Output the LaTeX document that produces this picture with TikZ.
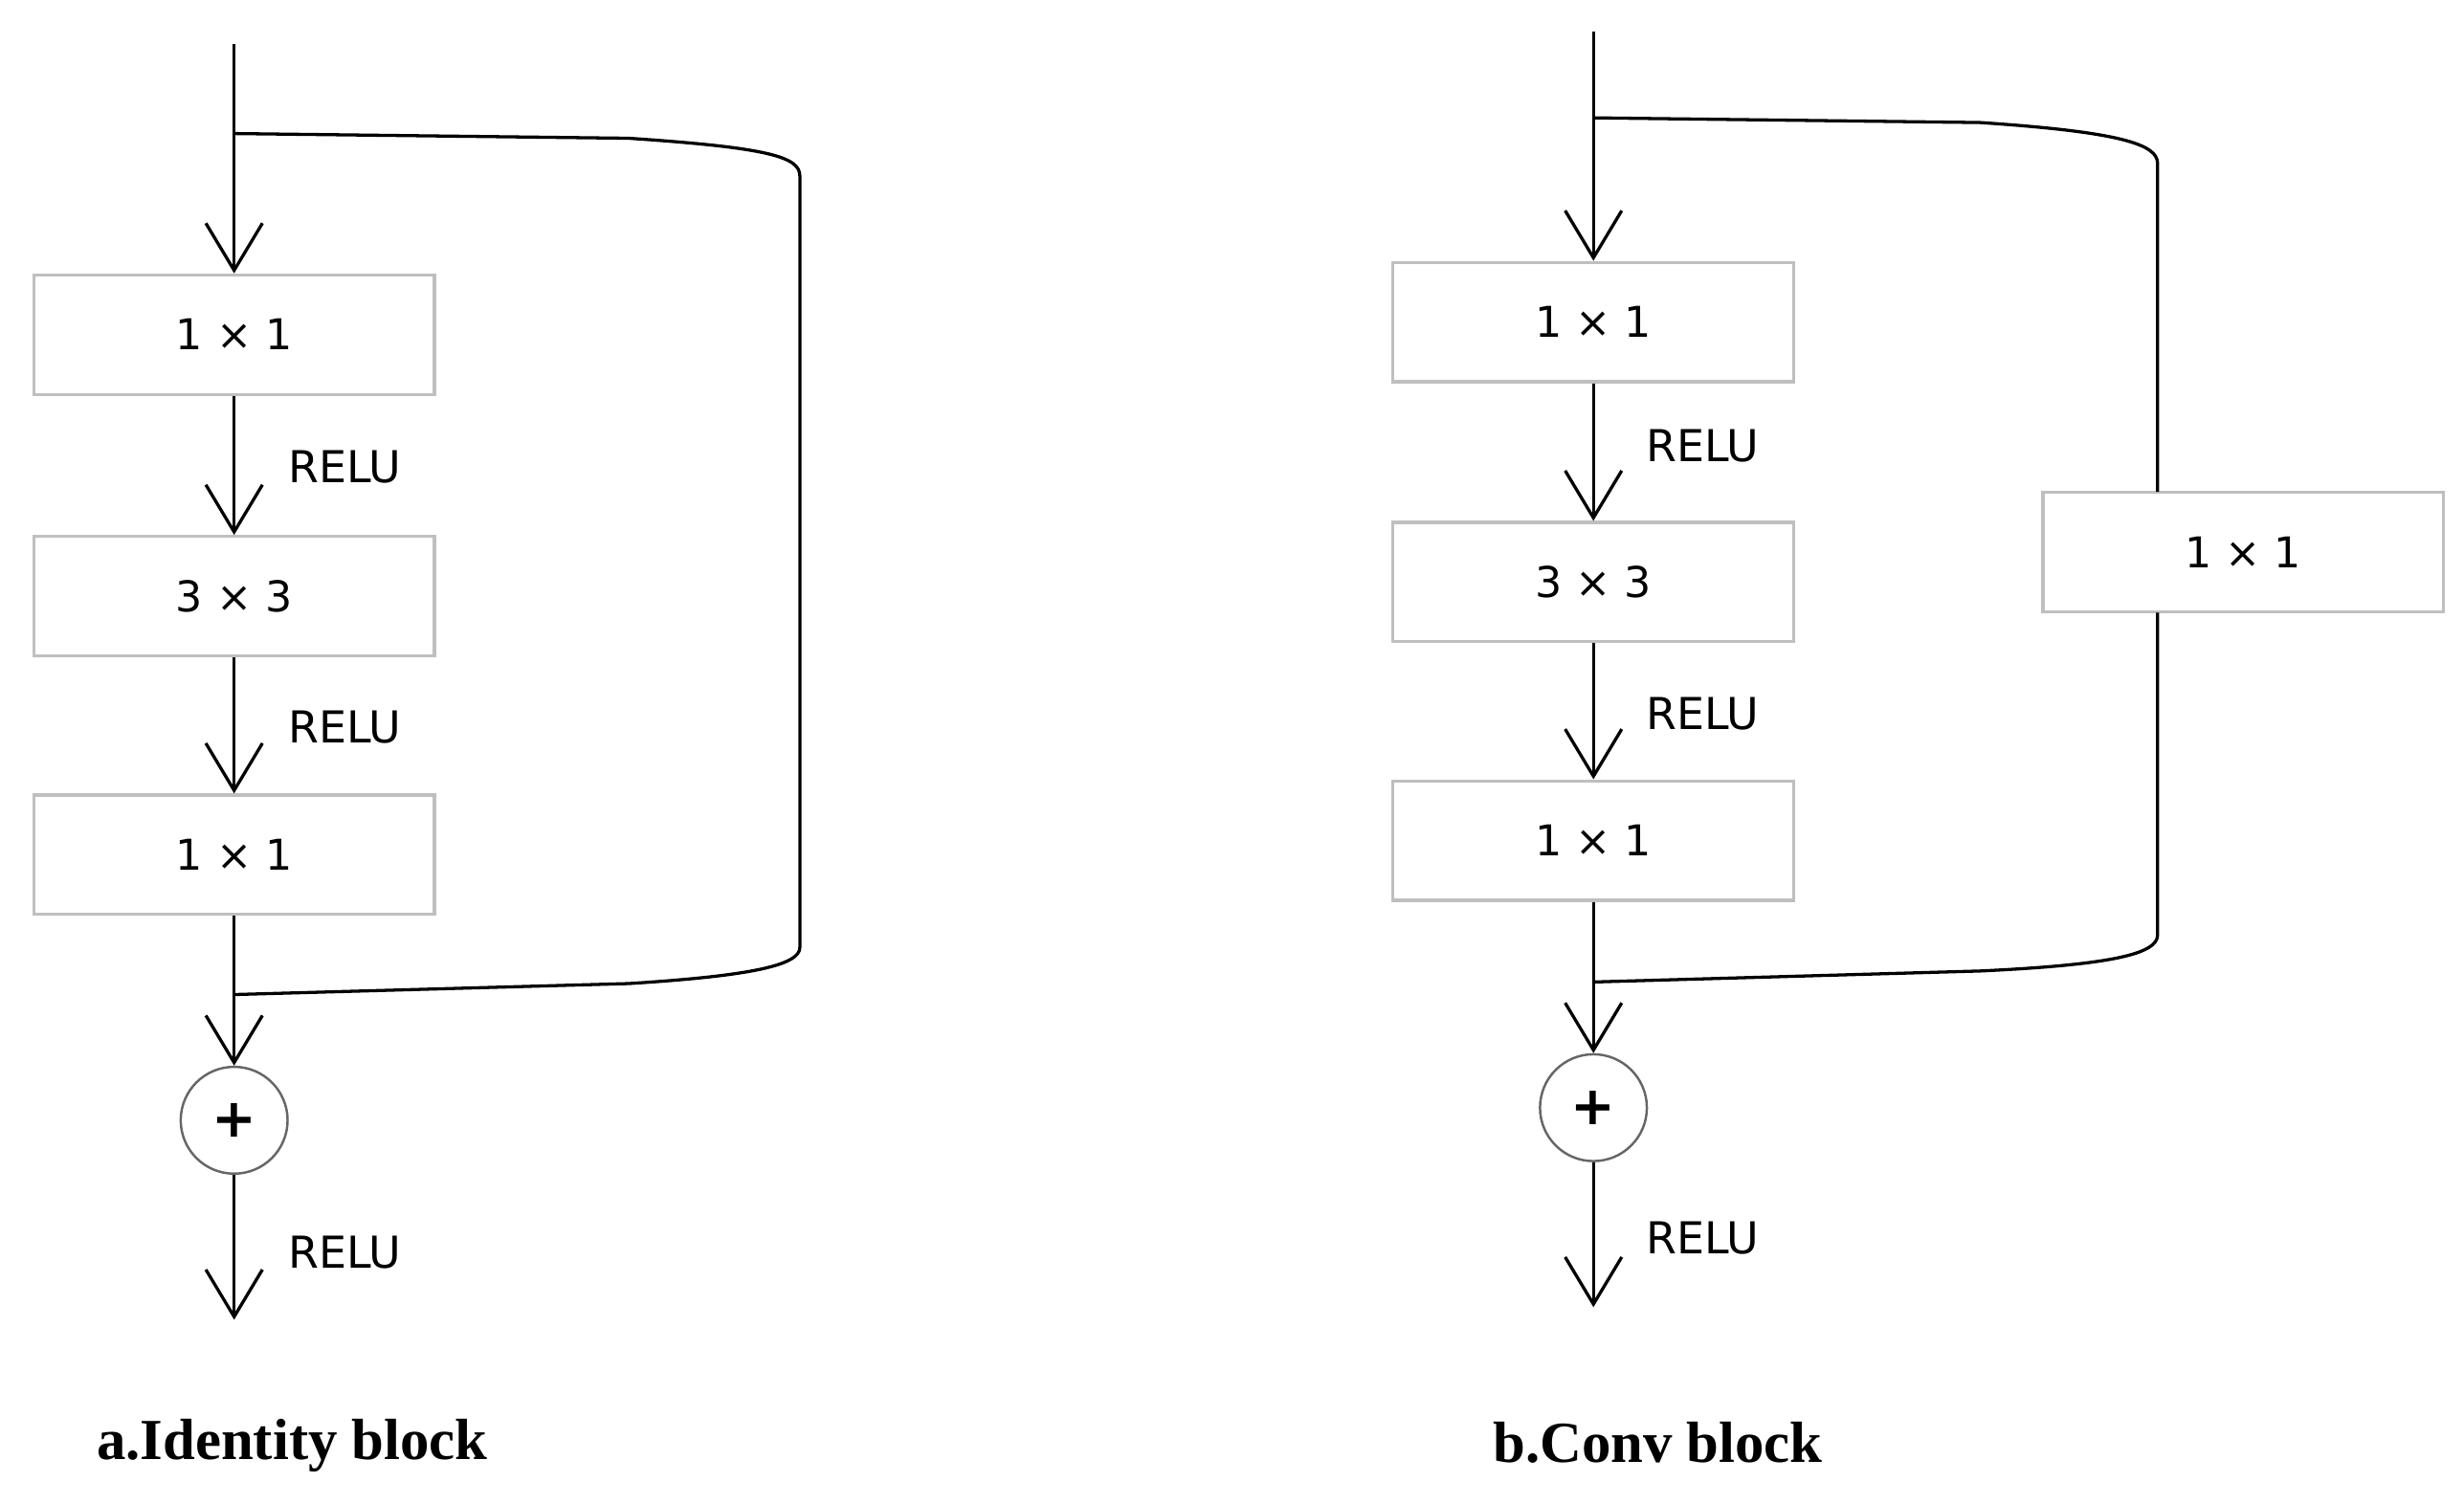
\documentclass[tikz,border=0pt]{standalone}
\usepackage{fontspec}
\setmainfont{Liberation Serif}
\newfontfamily\boxfont{DejaVu Sans}
\usetikzlibrary{arrows.meta}
\begin{document}
\begin{tikzpicture}[x=1pt,y=-1pt,
  blk/.style={draw=black!25,line width=2pt,minimum width=255pt,minimum height=76pt,font=\boxfont\fontsize{27}{30}\selectfont},
  arr/.style={line width=2pt,-{Straight Barb[length=30pt,width=36pt,line width=2pt]}},
  ln/.style={line width=2pt},
  sum/.style={draw=black!60,line width=1.5pt,circle,minimum size=68pt,inner sep=0pt,font=\boxfont\bfseries\fontsize{34}{34}\selectfont},
  lab/.style={anchor=west,font=\boxfont\fontsize{28}{30}\selectfont},
  captxt/.style={font=\bfseries\fontsize{37}{40}\selectfont}]
\useasboundingbox (0,0) rectangle (1568,957);
% ---- a
\coordinate (at) at (149,28);
\coordinate (as) at (149,85);
\coordinate (ae) at (149,633);
\coordinate (ab) at (149,840);
\node[blk] (a1) at (149,213) {1 × 1};
\node[blk] (a2) at (149,379.5) {3 × 3};
\node[blk] (a3) at (149,544) {1 × 1};
\node[sum] (ap) at (149,713) {+};
\draw[ln] (at) -- (as);
\draw[arr] (as) -- (a1.north);
\draw[arr] (a1) -- (a2);
\draw[arr] (a2) -- (a3);
\draw[ln] (a3) -- (ae);
\draw[arr] (ae) -- (ap.north);
\draw[arr] (ap) -- (ab);
\draw[ln] (as) -- (400,88) .. controls (490,94) and (509,100) .. (509,112) -- (509,603) .. controls (509,614) and (480,621) .. (400,626) -- (ae);
\node[lab] at (180,297) {RELU};
\node[lab] at (180,463) {RELU};
\node[lab] at (180,797) {RELU};
\node[captxt] (ca) at (186,920) {a.Identity block};
% ---- b
\coordinate (bt) at (1014,20);
\coordinate (bs) at (1014,75);
\coordinate (be) at (1014,625);
\coordinate (bb) at (1014,832);
\coordinate (bu) at (1373,313);
\coordinate (bd) at (1373,390);
\node[blk] (b1) at (1014,205) {1 × 1};
\node[blk] (b2) at (1014,370.5) {3 × 3};
\node[blk] (b3) at (1014,535) {1 × 1};
\node[blk] (b4) at (1427.5,351.5) {1 × 1};
\node[sum] (bp) at (1014,705) {+};
\draw[ln] (bt) -- (bs);
\draw[arr] (bs) -- (b1.north);
\draw[arr] (b1) -- (b2);
\draw[arr] (b2) -- (b3);
\draw[ln] (b3) -- (be);
\draw[arr] (be) -- (bp.north);
\draw[arr] (bp) -- (bb);
\draw[ln] (bs) -- (1260,78) .. controls (1350,84) and (1373,92) .. (1373,104) -- (bu);
\draw[ln] (bd) -- (1373,595) .. controls (1373,607) and (1345,614) .. (1260,618) -- (be);
\node[lab] at (1044,284) {RELU};
\node[lab] at (1044,454) {RELU};
\node[lab] at (1044,788) {RELU};
\node[captxt] (cb) at (1055,918) {b.Conv block};
\end{tikzpicture}
\end{document}
